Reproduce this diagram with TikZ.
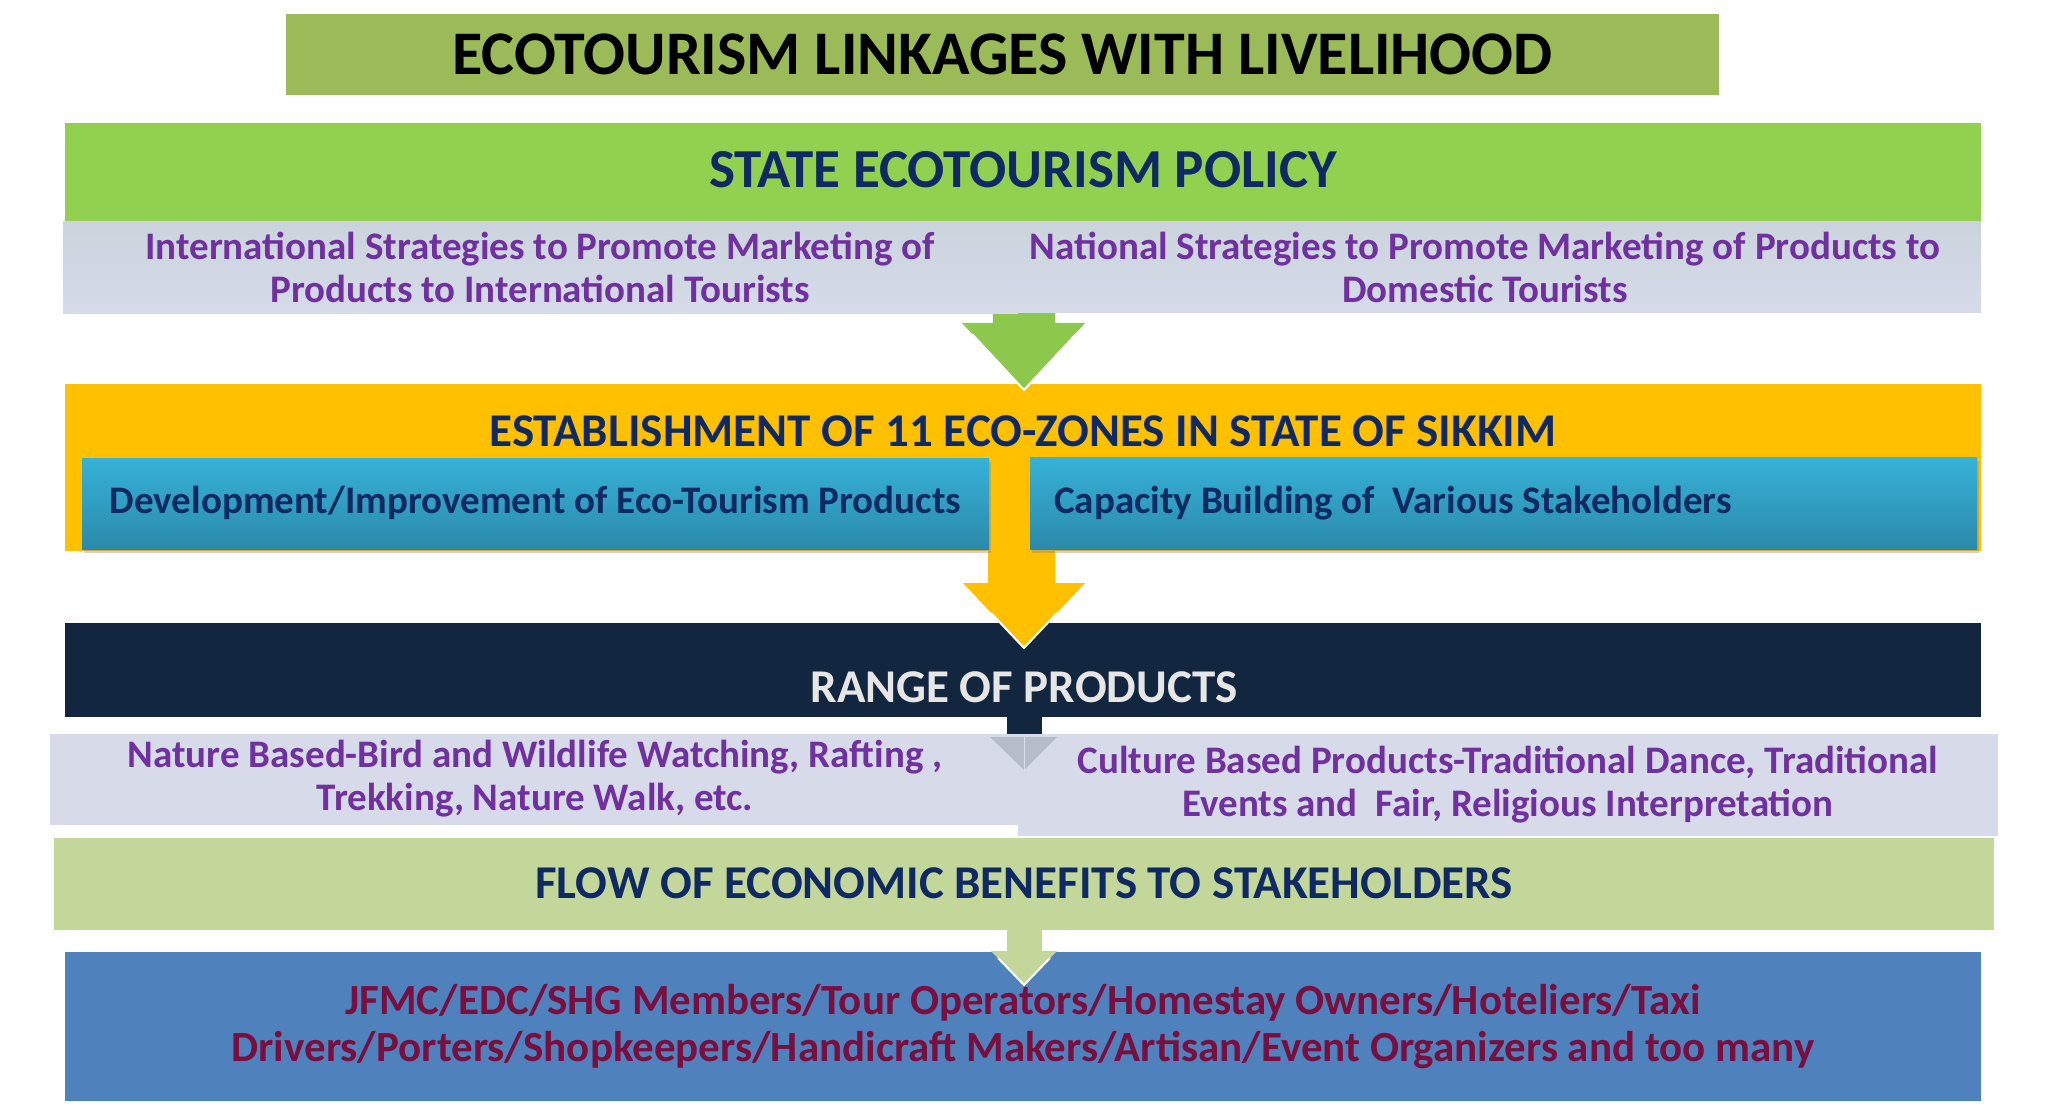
\documentclass[tikz,border=0pt]{standalone}
\usepackage{fontspec}
\setmainfont{Carlito}
\usetikzlibrary{calc,shadows}
\definecolor{titlegreen}{HTML}{9BBB59}
\definecolor{policygreen}{HTML}{92D050}
\definecolor{arrowgreen}{HTML}{8CC84B}
\definecolor{zoneyellow}{HTML}{FFC000}
\definecolor{navytext}{HTML}{0F2A63}
\definecolor{darknavy}{HTML}{12263F}
\definecolor{purpletext}{HTML}{7030A0}
\definecolor{stratgraytop}{HTML}{CBD4DD}
\definecolor{stratgraybot}{HTML}{D5DBE9}
\definecolor{tealtop}{HTML}{36B1D8}
\definecolor{tealbot}{HTML}{2B8AAB}
\definecolor{prodgray}{HTML}{D7DAE9}
\definecolor{trigray}{HTML}{B5BDCB}
\definecolor{flowgreen}{HTML}{C4D79B}
\definecolor{stakeblue}{HTML}{4F81BD}
\definecolor{maroontext}{HTML}{7A0E3E}
\definecolor{lightgraytext}{HTML}{E6E6E6}
\tikzset{
  box/.style={rectangle, inner sep=0pt, outer sep=0pt, anchor=north west},
  bigcap/.style={font=\fontsize{#1}{#1}\selectfont\bfseries, inner sep=0pt},
  purplelines/.style={font=\fontsize{39}{43}\selectfont\bfseries, text=purpletext, align=center, inner sep=0pt},
  tealbox/.style={box, top color=tealtop, bottom color=tealbot,
     drop shadow={opacity=0.35, shadow xshift=2pt, shadow yshift=-4pt}},
}
\begin{document}
\begin{tikzpicture}[x=1pt,y=-1pt]
\useasboundingbox[fill=white] (0,0) rectangle (2048,1107);

% title
\node[box, fill=titlegreen, minimum width=1433pt, minimum height=81pt] (title) at (286,14) {};
\node[bigcap=62, text=black] (titletext) at (title.center) {ECOTOURISM LINKAGES WITH LIVELIHOOD};

% policy
\node[box, fill=policygreen, minimum width=1916pt, minimum height=100pt] (policy) at (65,123) {};
\node[bigcap=55, text=navytext] (policytext) at (1023,170) {STATE ECOTOURISM POLICY};

% zones (yellow)
\node[box, fill=zoneyellow, minimum width=1916pt, minimum height=167pt] (zones) at (65,384) {};
\node[bigcap=47, text=navytext] (zonestext) at (1023,431) {ESTABLISHMENT OF 11 ECO-ZONES IN STATE OF SIKKIM};

% green arrow
\fill[arrowgreen] (993,222) -- (1055,222) -- (1055,323) -- (1085,323) -- (1024,390) -- (962,323) -- (993,323) -- cycle;
\draw[white, line width=2pt] (972,334) -- (1024,390) -- (1076,334);

% strategy boxes
\node[box, top color=stratgraytop, bottom color=stratgraybot, minimum width=955pt, minimum height=92pt] (intl) at (63,222) {};
\node[box, top color=stratgraytop, bottom color=stratgraybot, minimum width=963pt, minimum height=91pt] (natl) at (1018,222) {};
\node[purplelines] (intltext) at (540,267.5) {International Strategies to Promote Marketing of\\Products to International Tourists};
\node[purplelines] (natltext) at (1485,267.5) {National Strategies to Promote Marketing of Products to\\Domestic Tourists};

% navy box
\node[box, fill=darknavy, minimum width=1916pt, minimum height=94pt] (range) at (65,623) {};
\node[bigcap=47, text=lightgraytext] (rangetext) at (1024,687) {RANGE OF PRODUCTS};

% yellow arrow
\fill[zoneyellow] (988,540) -- (1055,540) -- (1055,583) -- (1085,583) -- (1024,648) -- (963,583) -- (988,583) -- cycle;
\draw[white, line width=2pt] (991,613) -- (1024,648) -- (1057,613);

% teal boxes
\node[tealbox, minimum width=907pt, minimum height=91pt] (devel) at (82,458) {};
\node[tealbox, minimum width=947pt, minimum height=92pt] (capac) at (1030,457) {};
\node[bigcap=39, text=navytext] (develtext) at (535.5,503) {Development/Improvement of Eco-Tourism Products};
\node[bigcap=39, text=navytext, anchor=west] (capactext) at (1054,503) {Capacity Building of\ \ Various Stakeholders};

% navy stem
\fill[darknavy] (1007,710) rectangle (1042,740);

% product boxes
\node[box, fill=prodgray, minimum width=968pt, minimum height=91pt] (nature) at (50,734) {};
\node[box, fill=prodgray, minimum width=980pt, minimum height=102pt] (culture) at (1018,734) {};
\node[purplelines] (naturetext) at (535,778.5) {Nature Based-Bird and Wildlife Watching, Rafting ,\\Trekking, Nature Walk, etc.};
\node[purplelines] (culturetext) at (1508,784.5) {Culture Based Products-Traditional Dance, Traditional\\Events and\ \ Fair, Religious Interpretation};

% gray triangle
\fill[trigray] (990,737) -- (1057,737) -- (1024,770) -- cycle;
\draw[white, opacity=0.5, line width=1pt] (1024,737) -- (1024,770);

% flow box
\node[box, fill=flowgreen, minimum width=1940pt, minimum height=92pt] (flow) at (54,838) {};
\node[bigcap=47, text=navytext] (flowtext) at (1024,883) {FLOW OF ECONOMIC BENEFITS TO STAKEHOLDERS};

% stakeholders box
\node[box, fill=stakeblue, minimum width=1916pt, minimum height=149pt] (stake) at (65,952) {};
\node[font=\fontsize{43}{47}\selectfont\bfseries, text=maroontext, align=center, inner sep=0pt] (staketext) at (1023,1026.5)
  {JFMC/EDC/SHG Members/Tour Operators/Homestay Owners/Hoteliers/Taxi\\Drivers/Porters/Shopkeepers/Handicraft Makers/Artisan/Event Organizers and too many};

% flow arrow
\fill[flowgreen] (1007,925) -- (1042,925) -- (1042,950) -- (1058,950) -- (1024,985) -- (990,950) -- (1007,950) -- cycle;
\draw[white, line width=2pt] (990,950) -- (1007,950);
\draw[white, line width=2pt] (1042,950) -- (1058,950);
\draw[white, line width=2pt] (998,958) -- (1024,985) -- (1050,958);
\end{tikzpicture}
\end{document}
